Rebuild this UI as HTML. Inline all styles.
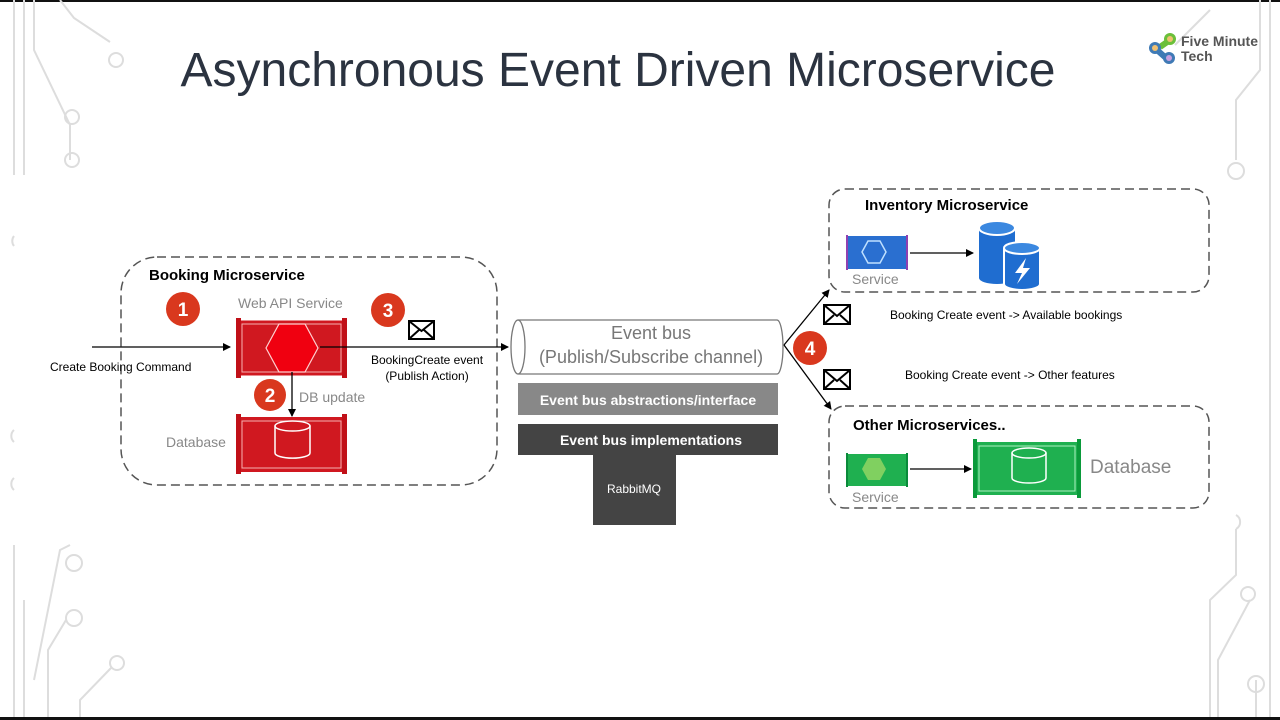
<!DOCTYPE html>
<html><head><meta charset="utf-8"><style>
html,body{margin:0;padding:0;background:#fff;width:1280px;height:720px;overflow:hidden}
svg{display:block}
text{font-family:"Liberation Sans",sans-serif}
</style></head><body>
<svg width="1280" height="720" viewBox="0 0 1280 720" xmlns="http://www.w3.org/2000/svg">
<defs>
<marker id="ar" markerWidth="8" markerHeight="8" refX="7" refY="4" orient="auto" markerUnits="userSpaceOnUse"><path d="M0,0 L8,4 L0,8 z" fill="#000"/></marker>
</defs>
<rect x="0" y="0" width="1280" height="720" fill="#fff"/>
<rect x="0" y="0" width="1280" height="2" fill="#111"/>
<rect x="0" y="717" width="1280" height="3" fill="#111"/>
<!-- circuit decorations -->
<g stroke="#ddd" stroke-width="2" fill="none">
<path d="M14,0 V175 M24,0 V175 M34,0 V50 L70,125 V160"/>
<path d="M60,0 L74,18 L110,42"/>
<circle cx="116" cy="60" r="7"/><circle cx="72" cy="117" r="7"/><circle cx="72" cy="160" r="7"/>
<path d="M14,545 V717 M24,600 V717 M34,680 L60,550 L70,545 M48,717 V650 L66,620"/>
<circle cx="74" cy="563" r="8"/><circle cx="74" cy="618" r="8"/><circle cx="117" cy="663" r="7"/>
<path d="M111,668 L80,700 V717"/>
<path d="M14,236 a8,8 0 0,0 0,10 M14,430 a8,8 0 0,0 0,12 M14,478 a8,8 0 0,0 0,12"/>
<path d="M1260,0 V70 L1236,100 V160 M1270,0 V717"/>
<circle cx="1236" cy="171" r="8"/>
<path d="M1236,515 a8,8 0 0,1 0,14 M1236,529 V575 L1210,600 V717 M1250,600 L1218,660 V717 M1256,680 V717"/>
<circle cx="1248" cy="594" r="7"/><circle cx="1256" cy="684" r="8"/>
<path d="M1210,10 L1175,45"/>
</g>
<!-- title -->
<text x="618" y="86" font-size="48" fill="#2b3340" text-anchor="middle">Asynchronous Event Driven Microservice</text>
<!-- logo -->
<g>
<path d="M1160,47 L1170,40" stroke="#6bbf3a" stroke-width="6"/>
<path d="M1157,50 L1166,58" stroke="#3f7ab5" stroke-width="6"/>
<circle cx="1170" cy="39" r="6" fill="#6bbf3a"/><circle cx="1170" cy="39" r="3" fill="#f0c070"/>
<circle cx="1155" cy="48" r="6" fill="#3f7ab5"/><circle cx="1155" cy="48" r="3" fill="#f0c070"/>
<circle cx="1169" cy="58" r="6" fill="#3f7ab5"/><circle cx="1169" cy="58" r="3" fill="#c8a0e0"/>
<text x="1181" y="46" font-size="14" font-weight="bold" fill="#555">Five Minute</text>
<text x="1181" y="61" font-size="14" font-weight="bold" fill="#555">Tech</text>
</g>
<!-- booking box -->
<rect x="121" y="257" width="376" height="228" rx="36" fill="none" stroke="#555" stroke-width="1.5" stroke-dasharray="9,5"/>
<text x="149" y="280" font-size="15" font-weight="bold" fill="#000">Booking Microservice</text>
<text x="238" y="308" font-size="14" fill="#888">Web API Service</text>
<line x1="92" y1="347" x2="230" y2="347" stroke="#000" stroke-width="1.3" marker-end="url(#ar)"/>
<text x="50" y="371" font-size="12" fill="#000">Create Booking Command</text>
<circle cx="183" cy="309" r="17" fill="#d9381e"/><text x="183" y="316" font-size="19" font-weight="bold" fill="#fff" text-anchor="middle">1</text>
<!-- web api block -->
<rect x="238" y="320" width="107" height="56" fill="#d01820" stroke="#fff" stroke-width="1"/>
<rect x="242" y="324" width="99" height="48" fill="none" stroke="#f4b0b0" stroke-width="1"/>
<rect x="236" y="318" width="5" height="60" fill="#c01018"/><rect x="342" y="318" width="5" height="60" fill="#c01018"/>
<polygon points="266,348 279,324 305,324 318,348 305,372 279,372" fill="#f00010" stroke="#ffd0d0" stroke-width="1.2"/>
<line x1="320" y1="347" x2="508" y2="347" stroke="#000" stroke-width="1.3" marker-end="url(#ar)"/>
<line x1="292" y1="372" x2="292" y2="416" stroke="#000" stroke-width="1.3" marker-end="url(#ar)"/>
<circle cx="270" cy="395" r="16" fill="#d9381e"/><text x="270" y="402" font-size="19" font-weight="bold" fill="#fff" text-anchor="middle">2</text>
<text x="299" y="402" font-size="14" fill="#888">DB update</text>
<!-- db block -->
<rect x="238" y="417" width="107" height="55" fill="#d01820"/>
<rect x="242" y="421" width="99" height="47" fill="none" stroke="#f4b0b0" stroke-width="1"/>
<rect x="236" y="414" width="5" height="60" fill="#c01018"/><rect x="342" y="414" width="5" height="60" fill="#c01018"/>
<path d="M275,426 v27 a17,5 0 0,0 35,0 v-27" fill="none" stroke="#fff" stroke-width="1.5"/>
<ellipse cx="292.5" cy="426" rx="17.5" ry="5" fill="none" stroke="#fff" stroke-width="1.5"/>
<text x="166" y="447" font-size="14" fill="#888">Database</text>
<circle cx="388" cy="310" r="17" fill="#d9381e"/><text x="388" y="317" font-size="19" font-weight="bold" fill="#fff" text-anchor="middle">3</text>
<g stroke="#000" stroke-width="2" fill="#fff"><rect x="409" y="321" width="25" height="18"/><path d="M409,321 L421.5,331 L434,321 M409,339 L419,330 M434,339 L424,330" fill="none"/></g>
<text x="427" y="364" font-size="12" fill="#000" text-anchor="middle">BookingCreate event</text>
<text x="427" y="380" font-size="12" fill="#000" text-anchor="middle">(Publish Action)</text>
<!-- event bus -->
<path d="M518,320 H777 a6,27 0 0,1 0,54 H518" fill="#fff" stroke="#777" stroke-width="1.3"/>
<ellipse cx="518" cy="347" rx="7" ry="27" fill="#fff" stroke="#777" stroke-width="1.3"/>
<text x="651" y="339" font-size="18" fill="#777" text-anchor="middle">Event bus</text>
<text x="651" y="363" font-size="18" fill="#777" text-anchor="middle">(Publish/Subscribe channel)</text>
<rect x="518" y="383" width="260" height="32" fill="#888"/>
<text x="648" y="405" font-size="14" font-weight="bold" fill="#fff" text-anchor="middle">Event bus abstractions/interface</text>
<rect x="518" y="424" width="260" height="31" fill="#444"/>
<text x="651" y="445" font-size="14" font-weight="bold" fill="#fff" text-anchor="middle">Event bus implementations</text>
<rect x="593" y="455" width="83" height="70" fill="#444"/>
<text x="634" y="493" font-size="12" fill="#fff" text-anchor="middle">RabbitMQ</text>
<!-- fan out -->
<line x1="784" y1="345" x2="829" y2="290" stroke="#000" stroke-width="1.3" marker-end="url(#ar)"/>
<line x1="784" y1="345" x2="831" y2="409" stroke="#000" stroke-width="1.3" marker-end="url(#ar)"/>
<circle cx="810" cy="348" r="17" fill="#d9381e"/><text x="810" y="355" font-size="19" font-weight="bold" fill="#fff" text-anchor="middle">4</text>
<g stroke="#000" stroke-width="2" fill="#fff"><rect x="824" y="305" width="26" height="19"/><path d="M824,305 L837,316 L850,305 M824,324 L834,315 M850,324 L840,315" fill="none"/></g>
<g stroke="#000" stroke-width="2" fill="#fff"><rect x="824" y="370" width="26" height="19"/><path d="M824,370 L837,381 L850,370 M824,389 L834,380 M850,389 L840,380" fill="none"/></g>
<text x="890" y="319" font-size="12" fill="#000">Booking Create event -&gt; Available bookings</text>
<text x="905" y="379" font-size="12" fill="#000">Booking Create event -&gt; Other features</text>
<!-- inventory -->
<rect x="829" y="189" width="380" height="103" rx="16" fill="none" stroke="#555" stroke-width="1.5" stroke-dasharray="9,5"/>
<text x="865" y="210" font-size="15" font-weight="bold" fill="#000">Inventory Microservice</text>
<rect x="847" y="236" width="60" height="33" fill="#2a6fd0"/>
<rect x="846" y="235" width="2" height="35" fill="#9040b0"/><rect x="906" y="235" width="2" height="35" fill="#9040b0"/>
<polygon points="862,252 868,241 880,241 886,252 880,263 868,263" fill="none" stroke="#bfe0ff" stroke-width="1.5"/>
<text x="852" y="284" font-size="14" fill="#888">Service</text>
<line x1="910" y1="253" x2="973" y2="253" stroke="#000" stroke-width="1.3" marker-end="url(#ar)"/>
<path d="M979,228 v50 a18,6 0 0,0 36,0 v-50" fill="#1f6dd0"/>
<ellipse cx="997" cy="228" rx="18" ry="7" fill="#3b88e0" stroke="#fff" stroke-width="2"/>
<path d="M1004,248 v36 a18,6 0 0,0 36,0 v-36" fill="#1f6dd0" stroke="#fff" stroke-width="2"/>
<ellipse cx="1022" cy="248" rx="18" ry="6" fill="#3b88e0" stroke="#fff" stroke-width="2"/>
<path d="M1026,258 L1015,273 L1022,273 L1017,284 L1030,268 L1023,268 Z" fill="#fff"/>
<!-- other -->
<rect x="829" y="406" width="380" height="102" rx="16" fill="none" stroke="#555" stroke-width="1.5" stroke-dasharray="9,5"/>
<text x="853" y="430" font-size="15" font-weight="bold" fill="#000">Other Microservices..</text>
<rect x="847" y="454" width="60" height="32" fill="#1fb050"/>
<rect x="846" y="453" width="2" height="34" fill="#0a8a3a"/><rect x="906" y="453" width="2" height="34" fill="#0a8a3a"/>
<polygon points="862,469 868,458 880,458 886,469 880,480 868,480" fill="#80d060"/>
<text x="852" y="502" font-size="14" fill="#888">Service</text>
<line x1="910" y1="469" x2="971" y2="469" stroke="#000" stroke-width="1.3" marker-end="url(#ar)"/>
<rect x="975" y="442" width="104" height="53" fill="#1fb050"/>
<rect x="979" y="446" width="96" height="45" fill="none" stroke="#aef0c0" stroke-width="1"/>
<rect x="973" y="439" width="4" height="59" fill="#0a9a3a"/><rect x="1077" y="439" width="4" height="59" fill="#0a9a3a"/>
<path d="M1012,453 v25 a17,5 0 0,0 34,0 v-25" fill="none" stroke="#fff" stroke-width="1.5"/>
<ellipse cx="1029" cy="453" rx="17" ry="5" fill="none" stroke="#fff" stroke-width="1.5"/>
<text x="1090" y="473" font-size="19" fill="#888">Database</text>
</svg>
</body></html>
